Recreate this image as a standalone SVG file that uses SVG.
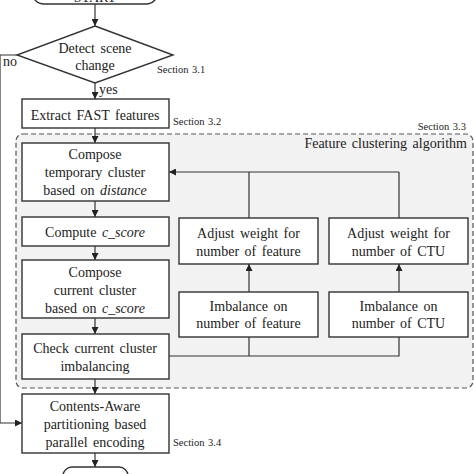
<svg xmlns="http://www.w3.org/2000/svg" width="474" height="474" viewBox="0 0 474 474">
<defs>
<marker id="ah" viewBox="0 0 10 10" refX="10" refY="5" markerWidth="7" markerHeight="7" markerUnits="userSpaceOnUse" orient="auto">
<path d="M0,0 L10,5 L0,10 z" fill="#222"/>
</marker>
<style>
.box{fill:#fff;stroke:#333;stroke-width:1.4}
.t{font-family:"Liberation Serif","Times New Roman",serif;font-size:14px;fill:#222;text-anchor:middle;word-spacing:2px}
.s{font-family:"Liberation Serif","Times New Roman",serif;font-size:10.5px;fill:#222;word-spacing:1px}
.c{fill:none;stroke:#333;stroke-width:1.2}
.a{marker-end:url(#ah)}
</style>
</defs>
<rect width="474" height="474" fill="#fff"/>

<g id="cluster-region">
<rect x="16" y="134" width="457" height="254" rx="7" fill="#f2f2f2" stroke="#555" stroke-width="1.2" stroke-dasharray="5,3"/>
<text class="s" x="466" y="130" text-anchor="end">Section 3.3</text>
<text class="t" x="467" y="148" style="text-anchor:end">Feature clustering algorithm</text>
</g>

<g id="connectors">
<line class="c a" x1="95" y1="4" x2="95" y2="26"/>
<line class="c a" x1="95" y1="83" x2="95" y2="99"/>
<line class="c a" x1="95" y1="128" x2="95" y2="143"/>
<line class="c a" x1="95" y1="201" x2="95" y2="217"/>
<line class="c a" x1="95" y1="246" x2="95" y2="260"/>
<line class="c a" x1="95" y1="318" x2="95" y2="334"/>
<line class="c a" x1="95" y1="379" x2="95" y2="394"/>
<line class="c a" x1="95" y1="453" x2="95" y2="467"/>
<path class="c a" d="M17,55 H0 V423 H22"/>
<path class="c" d="M169,356 H399 V337 M249,356 V337"/>
<line class="c a" x1="249" y1="292" x2="249" y2="264"/>
<line class="c a" x1="399" y1="292" x2="399" y2="264"/>
<path class="c" d="M249,218 V172 M399,218 V172"/>
<line class="c a" x1="399" y1="172" x2="169" y2="172"/>
<text class="t" x="3" y="66" style="text-anchor:start">no</text>
<text class="t" x="99" y="94" style="text-anchor:start">yes</text>
</g>

<g id="start">
<rect class="box" x="32" y="-30" width="126" height="34" rx="12"/>
<text class="t" x="95" y="2">START</text>
</g>

<g id="detect">
<polygon class="box" points="95,26 173,55 95,83 17,55"/>
<text class="t" x="95" y="53">Detect scene</text>
<text class="t" x="95" y="70">change</text>
<text class="s" x="157" y="73">Section 3.1</text>
</g>

<g id="extract">
<rect class="box" x="22" y="99" width="147" height="29"/>
<text class="t" x="95" y="120">Extract FAST features</text>
<text class="s" x="173" y="125">Section 3.2</text>
</g>

<g id="compose-temp">
<rect class="box" x="22" y="143" width="147" height="58"/>
<text class="t" x="95" y="159">Compose</text>
<text class="t" x="95" y="177">temporary cluster</text>
<text class="t" x="95" y="195">based on <tspan font-style="italic">distance</tspan></text>
</g>

<g id="compute">
<rect class="box" x="22" y="217" width="147" height="29"/>
<text class="t" x="95" y="237">Compute <tspan font-style="italic">c_score</tspan></text>
</g>

<g id="compose-current">
<rect class="box" x="22" y="260" width="147" height="58"/>
<text class="t" x="95" y="277">Compose</text>
<text class="t" x="95" y="295">current cluster</text>
<text class="t" x="95" y="313">based on <tspan font-style="italic">c_score</tspan></text>
</g>

<g id="check">
<rect class="box" x="22" y="334" width="147" height="45"/>
<text class="t" x="95" y="353">Check current cluster</text>
<text class="t" x="95" y="371">imbalancing</text>
</g>

<g id="adjust-feature">
<rect class="box" x="179" y="218" width="139" height="46"/>
<text class="t" x="248.5" y="238">Adjust weight for</text>
<text class="t" x="248.5" y="256">number of feature</text>
</g>

<g id="adjust-ctu">
<rect class="box" x="329" y="218" width="139" height="46"/>
<text class="t" x="398.5" y="238">Adjust weight for</text>
<text class="t" x="398.5" y="256">number of CTU</text>
</g>

<g id="imbalance-feature">
<rect class="box" x="179" y="292" width="139" height="45"/>
<text class="t" x="248.5" y="311">Imbalance on</text>
<text class="t" x="248.5" y="328">number of feature</text>
</g>

<g id="imbalance-ctu">
<rect class="box" x="329" y="292" width="139" height="45"/>
<text class="t" x="398.5" y="311">Imbalance on</text>
<text class="t" x="398.5" y="328">number of CTU</text>
</g>

<g id="partition">
<rect class="box" x="22" y="394" width="147" height="59"/>
<text class="t" x="95" y="411">Contents-Aware</text>
<text class="t" x="95" y="429">partitioning based</text>
<text class="t" x="95" y="447">parallel encoding</text>
<text class="s" x="173" y="446">Section 3.4</text>
</g>

<g id="end">
<rect class="box" x="63" y="467" width="65" height="30" rx="9"/>
</g>
</svg>
